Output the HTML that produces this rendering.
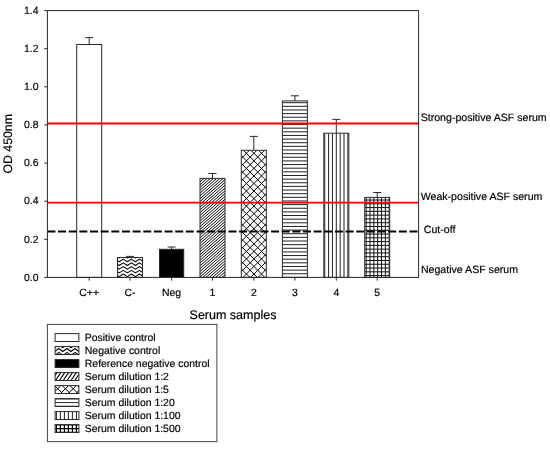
<!DOCTYPE html>
<html><head><meta charset="utf-8"><title>ELISA OD 450nm</title>
<style>
html,body{margin:0;padding:0;background:#fff;}
body{width:550px;height:450px;overflow:hidden;}
svg{display:block;}
text{font-family:"Liberation Sans",Arial,Helvetica,sans-serif;fill:#000;stroke:#000;stroke-width:0.18px;text-rendering:geometricPrecision;}
.s{font-size:10.45px;}
.b{font-size:12.5px;}
.r{font-size:10.6px;}
</style></head><body>
<svg width="550" height="450" viewBox="0 0 550 450">
<rect width="550" height="450" fill="#fff"/>
<rect x="76.7" y="44.5" width="25" height="232.9" fill="#fff"/>
<rect x="76.7" y="44.5" width="25" height="232.9" fill="none" stroke="#2a2a2a" stroke-width="1"/>
<path d="M89.2,44.5 V37.6 M85.2,37.6 H93.2" fill="none" stroke="#2a2a2a" stroke-width="1"/>
<rect x="117.5" y="257.5" width="25" height="19.9" fill="#fff"/>
<clipPath id="c1"><rect x="117.5" y="257.5" width="25" height="19.9"/></clipPath>
<path clip-path="url(#c1)" d="M107.1,251.62 L111.15,254.22 L115.2,251.62 L119.25,254.22 L123.3,251.62 L127.35,254.22 L131.4,251.62 L135.45,254.22 L139.5,251.62 L143.55,254.22 L147.6,251.62 L151.65,254.22 M107.1,255.36 L111.15,257.96 L115.2,255.36 L119.25,257.96 L123.3,255.36 L127.35,257.96 L131.4,255.36 L135.45,257.96 L139.5,255.36 L143.55,257.96 L147.6,255.36 L151.65,257.96 M107.1,259.1 L111.15,261.7 L115.2,259.1 L119.25,261.7 L123.3,259.1 L127.35,261.7 L131.4,259.1 L135.45,261.7 L139.5,259.1 L143.55,261.7 L147.6,259.1 L151.65,261.7 M107.1,262.84 L111.15,265.44 L115.2,262.84 L119.25,265.44 L123.3,262.84 L127.35,265.44 L131.4,262.84 L135.45,265.44 L139.5,262.84 L143.55,265.44 L147.6,262.84 L151.65,265.44 M107.1,266.58 L111.15,269.18 L115.2,266.58 L119.25,269.18 L123.3,266.58 L127.35,269.18 L131.4,266.58 L135.45,269.18 L139.5,266.58 L143.55,269.18 L147.6,266.58 L151.65,269.18 M107.1,270.32 L111.15,272.92 L115.2,270.32 L119.25,272.92 L123.3,270.32 L127.35,272.92 L131.4,270.32 L135.45,272.92 L139.5,270.32 L143.55,272.92 L147.6,270.32 L151.65,272.92 M107.1,274.06 L111.15,276.66 L115.2,274.06 L119.25,276.66 L123.3,274.06 L127.35,276.66 L131.4,274.06 L135.45,276.66 L139.5,274.06 L143.55,276.66 L147.6,274.06 L151.65,276.66 M107.1,277.8 L111.15,280.4 L115.2,277.8 L119.25,280.4 L123.3,277.8 L127.35,280.4 L131.4,277.8 L135.45,280.4 L139.5,277.8 L143.55,280.4 L147.6,277.8 L151.65,280.4 M107.1,281.54 L111.15,284.14 L115.2,281.54 L119.25,284.14 L123.3,281.54 L127.35,284.14 L131.4,281.54 L135.45,284.14 L139.5,281.54 L143.55,284.14 L147.6,281.54 L151.65,284.14" fill="none" stroke="#000" stroke-width="1.05" stroke-linejoin="round"/>
<rect x="117.5" y="257.5" width="25" height="19.9" fill="none" stroke="#2a2a2a" stroke-width="1"/>
<path d="M130.0,257.5 V256.4 M126.0,256.4 H134.0" fill="none" stroke="#2a2a2a" stroke-width="1"/>
<rect x="159.5" y="249.3" width="24.2" height="28.1" fill="#000"/>
<rect x="159.5" y="249.3" width="24.2" height="28.1" fill="none" stroke="#2a2a2a" stroke-width="1"/>
<path d="M171.6,249.3 V247.0 M167.6,247.0 H175.6" fill="none" stroke="#2a2a2a" stroke-width="1"/>
<rect x="200.0" y="178.4" width="25" height="99.0" fill="#fff"/>
<clipPath id="c2"><rect x="200" y="178.4" width="25" height="99"/></clipPath>
<path clip-path="url(#c2)" d="M87.61,277.4 L200.76,178.4 M90.81,277.4 L203.96,178.4 M94.01,277.4 L207.16,178.4 M97.21,277.4 L210.36,178.4 M100.41,277.4 L213.56,178.4 M103.61,277.4 L216.76,178.4 M106.81,277.4 L219.96,178.4 M110.01,277.4 L223.16,178.4 M113.21,277.4 L226.36,178.4 M116.41,277.4 L229.56,178.4 M119.61,277.4 L232.76,178.4 M122.81,277.4 L235.96,178.4 M126.01,277.4 L239.16,178.4 M129.21,277.4 L242.36,178.4 M132.41,277.4 L245.56,178.4 M135.61,277.4 L248.76,178.4 M138.81,277.4 L251.96,178.4 M142.01,277.4 L255.16,178.4 M145.21,277.4 L258.36,178.4 M148.41,277.4 L261.56,178.4 M151.61,277.4 L264.76,178.4 M154.81,277.4 L267.96,178.4 M158.01,277.4 L271.16,178.4 M161.21,277.4 L274.36,178.4 M164.41,277.4 L277.56,178.4 M167.61,277.4 L280.76,178.4 M170.81,277.4 L283.96,178.4 M174.01,277.4 L287.16,178.4 M177.21,277.4 L290.36,178.4 M180.41,277.4 L293.56,178.4 M183.61,277.4 L296.76,178.4 M186.81,277.4 L299.96,178.4 M190.01,277.4 L303.16,178.4 M193.21,277.4 L306.36,178.4 M196.41,277.4 L309.56,178.4 M199.61,277.4 L312.76,178.4 M202.81,277.4 L315.96,178.4 M206.01,277.4 L319.16,178.4 M209.21,277.4 L322.36,178.4 M212.41,277.4 L325.56,178.4 M215.61,277.4 L328.76,178.4 M218.81,277.4 L331.96,178.4 M222.01,277.4 L335.16,178.4 M225.21,277.4 L338.36,178.4" fill="none" stroke="#000" stroke-width="0.98" stroke-linejoin="round"/>
<rect x="200.0" y="178.4" width="25" height="99.0" fill="none" stroke="#2a2a2a" stroke-width="1"/>
<path d="M212.5,178.4 V173.5 M208.5,173.5 H216.5" fill="none" stroke="#2a2a2a" stroke-width="1"/>
<rect x="241.3" y="150.3" width="25" height="127.1" fill="#fff"/>
<clipPath id="c3"><rect x="241.35" y="150.3" width="25" height="127.1"/></clipPath>
<path clip-path="url(#c3)" d="M115.14,150.3 L242.23,277.4 M122.68,150.3 L249.78,277.4 M130.23,150.3 L257.32,277.4 M137.77,150.3 L264.87,277.4 M145.31,150.3 L272.41,277.4 M152.86,150.3 L279.96,277.4 M160.41,150.3 L287.5,277.4 M167.95,150.3 L295.05,277.4 M175.5,150.3 L302.59,277.4 M183.04,150.3 L310.14,277.4 M190.59,150.3 L317.68,277.4 M198.13,150.3 L325.23,277.4 M205.68,150.3 L332.77,277.4 M213.22,150.3 L340.32,277.4 M220.77,150.3 L347.87,277.4 M228.31,150.3 L355.41,277.4 M114.76,277.4 L241.86,150.3 M235.86,150.3 L362.95,277.4 M122.3,277.4 L249.4,150.3 M243.4,150.3 L370.5,277.4 M129.85,277.4 L256.94,150.3 M250.94,150.3 L378.04,277.4 M137.39,277.4 L264.49,150.3 M258.49,150.3 L385.59,277.4 M144.94,277.4 L272.04,150.3 M266.04,150.3 L393.13,277.4 M152.48,277.4 L279.58,150.3 M160.03,277.4 L287.12,150.3 M167.57,277.4 L294.67,150.3 M175.12,277.4 L302.22,150.3 M182.66,277.4 L309.76,150.3 M190.21,277.4 L317.31,150.3 M197.75,277.4 L324.85,150.3 M205.3,277.4 L332.39,150.3 M212.84,277.4 L339.94,150.3 M220.39,277.4 L347.49,150.3 M227.93,277.4 L355.03,150.3 M235.48,277.4 L362.57,150.3 M243.02,277.4 L370.12,150.3 M250.56,277.4 L377.66,150.3 M258.11,277.4 L385.21,150.3 M265.66,277.4 L392.75,150.3" fill="none" stroke="#000" stroke-width="1.0" stroke-linejoin="round"/>
<rect x="241.3" y="150.3" width="25" height="127.1" fill="none" stroke="#2a2a2a" stroke-width="1"/>
<path d="M253.8,150.3 V136.4 M249.8,136.4 H257.9" fill="none" stroke="#2a2a2a" stroke-width="1"/>
<rect x="282.4" y="100.9" width="25" height="176.5" fill="#fff"/>
<clipPath id="c4"><rect x="282.35" y="100.9" width="25" height="176.5"/></clipPath>
<path clip-path="url(#c4)" d="M282.35,102.68 H307.35 M282.35,106.32 H307.35 M282.35,109.96 H307.35 M282.35,113.6 H307.35 M282.35,117.24 H307.35 M282.35,120.88 H307.35 M282.35,124.52 H307.35 M282.35,128.16 H307.35 M282.35,131.8 H307.35 M282.35,135.44 H307.35 M282.35,139.08 H307.35 M282.35,142.72 H307.35 M282.35,146.36 H307.35 M282.35,150 H307.35 M282.35,153.64 H307.35 M282.35,157.28 H307.35 M282.35,160.92 H307.35 M282.35,164.56 H307.35 M282.35,168.2 H307.35 M282.35,171.84 H307.35 M282.35,175.48 H307.35 M282.35,179.12 H307.35 M282.35,182.76 H307.35 M282.35,186.4 H307.35 M282.35,190.04 H307.35 M282.35,193.68 H307.35 M282.35,197.32 H307.35 M282.35,200.96 H307.35 M282.35,204.6 H307.35 M282.35,208.24 H307.35 M282.35,211.88 H307.35 M282.35,215.52 H307.35 M282.35,219.16 H307.35 M282.35,222.8 H307.35 M282.35,226.44 H307.35 M282.35,230.08 H307.35 M282.35,233.72 H307.35 M282.35,237.36 H307.35 M282.35,241 H307.35 M282.35,244.64 H307.35 M282.35,248.28 H307.35 M282.35,251.92 H307.35 M282.35,255.56 H307.35 M282.35,259.2 H307.35 M282.35,262.84 H307.35 M282.35,266.48 H307.35 M282.35,270.12 H307.35 M282.35,273.76 H307.35 M282.35,277.4 H307.35" fill="none" stroke="#222" stroke-width="1.0" stroke-linejoin="round"/>
<rect x="282.4" y="100.9" width="25" height="176.5" fill="none" stroke="#2a2a2a" stroke-width="1"/>
<path d="M294.9,100.9 V95.8 M290.9,95.8 H298.9" fill="none" stroke="#2a2a2a" stroke-width="1"/>
<rect x="323.8" y="133.2" width="25" height="144.2" fill="#fff"/>
<clipPath id="c5"><rect x="323.8" y="133.2" width="25" height="144.2"/></clipPath>
<path clip-path="url(#c5)" d="M324.75,133.2 V277.4 M328.6,133.2 V277.4 M332.45,133.2 V277.4 M336.3,133.2 V277.4 M340.15,133.2 V277.4 M344,133.2 V277.4 M347.85,133.2 V277.4" fill="none" stroke="#222" stroke-width="1.0" stroke-linejoin="round"/>
<rect x="323.8" y="133.2" width="25" height="144.2" fill="none" stroke="#2a2a2a" stroke-width="1"/>
<path d="M336.3,133.2 V119.4 M332.3,119.4 H340.3" fill="none" stroke="#2a2a2a" stroke-width="1"/>
<rect x="364.7" y="197.4" width="25" height="80.0" fill="#fff"/>
<clipPath id="c6"><rect x="364.7" y="197.4" width="25" height="80"/></clipPath>
<path clip-path="url(#c6)" d="M364.7,200.02 H389.7 M364.7,203.8 H389.7 M364.7,207.58 H389.7 M364.7,211.36 H389.7 M364.7,215.14 H389.7 M364.7,218.92 H389.7 M364.7,222.7 H389.7 M364.7,226.48 H389.7 M364.7,230.26 H389.7 M364.7,234.04 H389.7 M364.7,237.82 H389.7 M364.7,241.6 H389.7 M364.7,245.38 H389.7 M364.7,249.16 H389.7 M364.7,252.94 H389.7 M364.7,256.72 H389.7 M364.7,260.5 H389.7 M364.7,264.28 H389.7 M364.7,268.06 H389.7 M364.7,271.84 H389.7 M364.7,275.62 H389.7 M366.16,197.4 V277.4 M370,197.4 V277.4 M373.84,197.4 V277.4 M377.68,197.4 V277.4 M381.52,197.4 V277.4 M385.36,197.4 V277.4 M389.2,197.4 V277.4" fill="none" stroke="#111" stroke-width="1.0" stroke-linejoin="round"/>
<rect x="364.7" y="197.4" width="25" height="80.0" fill="none" stroke="#2a2a2a" stroke-width="1"/>
<path d="M377.2,197.4 V192.5 M373.2,192.5 H381.2" fill="none" stroke="#2a2a2a" stroke-width="1"/>
<line x1="47.4" x2="418.6" y1="123.5" y2="123.5" stroke="#f00" stroke-width="1.8"/>
<line x1="47.4" x2="418.6" y1="202.7" y2="202.7" stroke="#f00" stroke-width="1.8"/>
<line x1="47.4" x2="418.6" y1="231.5" y2="231.5" stroke="#000" stroke-width="2" stroke-dasharray="8 2.65"/>
<rect x="47.4" y="10.6" width="371.2" height="266.8" fill="none" stroke="#2a2a2a" stroke-width="1"/>
<line x1="44.2" x2="47.4" y1="277.4" y2="277.4" stroke="#2a2a2a" stroke-width="1"/>
<text class="s" x="38.5" y="280.6" text-anchor="end">0.0</text>
<line x1="44.2" x2="47.4" y1="239.3" y2="239.3" stroke="#2a2a2a" stroke-width="1"/>
<text class="s" x="38.5" y="242.5" text-anchor="end">0.2</text>
<line x1="44.2" x2="47.4" y1="201.2" y2="201.2" stroke="#2a2a2a" stroke-width="1"/>
<text class="s" x="38.5" y="204.4" text-anchor="end">0.4</text>
<line x1="44.2" x2="47.4" y1="163.1" y2="163.1" stroke="#2a2a2a" stroke-width="1"/>
<text class="s" x="38.5" y="166.3" text-anchor="end">0.6</text>
<line x1="44.2" x2="47.4" y1="124.9" y2="124.9" stroke="#2a2a2a" stroke-width="1"/>
<text class="s" x="38.5" y="128.1" text-anchor="end">0.8</text>
<line x1="44.2" x2="47.4" y1="86.8" y2="86.8" stroke="#2a2a2a" stroke-width="1"/>
<text class="s" x="38.5" y="90.0" text-anchor="end">1.0</text>
<line x1="44.2" x2="47.4" y1="48.7" y2="48.7" stroke="#2a2a2a" stroke-width="1"/>
<text class="s" x="38.5" y="51.9" text-anchor="end">1.2</text>
<line x1="44.2" x2="47.4" y1="10.6" y2="10.6" stroke="#2a2a2a" stroke-width="1"/>
<text class="s" x="38.5" y="13.8" text-anchor="end">1.4</text>
<line x1="89.2" x2="89.2" y1="277.4" y2="280.6" stroke="#2a2a2a" stroke-width="1"/>
<text class="s" x="89.2" y="295.8" text-anchor="middle">C++</text>
<line x1="130.0" x2="130.0" y1="277.4" y2="280.6" stroke="#2a2a2a" stroke-width="1"/>
<text class="s" x="130.0" y="295.8" text-anchor="middle">C-</text>
<line x1="171.6" x2="171.6" y1="277.4" y2="280.6" stroke="#2a2a2a" stroke-width="1"/>
<text class="s" x="171.6" y="295.8" text-anchor="middle">Neg</text>
<line x1="212.5" x2="212.5" y1="277.4" y2="280.6" stroke="#2a2a2a" stroke-width="1"/>
<text class="s" x="212.5" y="295.8" text-anchor="middle">1</text>
<line x1="253.8" x2="253.8" y1="277.4" y2="280.6" stroke="#2a2a2a" stroke-width="1"/>
<text class="s" x="253.8" y="295.8" text-anchor="middle">2</text>
<line x1="294.9" x2="294.9" y1="277.4" y2="280.6" stroke="#2a2a2a" stroke-width="1"/>
<text class="s" x="294.9" y="295.8" text-anchor="middle">3</text>
<line x1="336.3" x2="336.3" y1="277.4" y2="280.6" stroke="#2a2a2a" stroke-width="1"/>
<text class="s" x="336.3" y="295.8" text-anchor="middle">4</text>
<line x1="377.2" x2="377.2" y1="277.4" y2="280.6" stroke="#2a2a2a" stroke-width="1"/>
<text class="s" x="377.2" y="295.8" text-anchor="middle">5</text>
<text class="b" x="233" y="318.6" text-anchor="middle">Serum samples</text>
<text class="b" style="font-size:12.3px" transform="translate(12.3,143.8) rotate(-90)" text-anchor="middle">OD 450nm</text>
<text class="r" x="420.7" y="121.1">Strong-positive ASF serum</text>
<text class="r" x="420.7" y="199.6">Weak-positive ASF serum</text>
<text class="r" x="423.8" y="233.1">Cut-off</text>
<text class="r" x="420.9" y="272.9">Negative ASF serum</text>
<rect x="47.4" y="324.4" width="169.5" height="117.2" fill="#fff" stroke="#444" stroke-width="1"/>
<rect x="55.1" y="333.6" width="23.8" height="7.9" fill="#fff"/>
<rect x="55.1" y="333.6" width="23.8" height="7.9" fill="none" stroke="#2a2a2a" stroke-width="1"/>
<text class="s" x="84.8" y="341.1">Positive control</text>
<rect x="55.1" y="346.6" width="23.8" height="7.9" fill="#fff"/>
<clipPath id="c7"><rect x="55.1" y="346.6" width="23.8" height="7.9"/></clipPath>
<path clip-path="url(#c7)" d="M42.6,340.9 L46.65,343.9 L50.7,340.9 L54.75,343.9 L58.8,340.9 L62.85,343.9 L66.9,340.9 L70.95,343.9 L75,340.9 L79.05,343.9 L83.1,340.9 L87.15,343.9 M42.6,344.7 L46.65,347.7 L50.7,344.7 L54.75,347.7 L58.8,344.7 L62.85,347.7 L66.9,344.7 L70.95,347.7 L75,344.7 L79.05,347.7 L83.1,344.7 L87.15,347.7 M42.6,348.5 L46.65,351.5 L50.7,348.5 L54.75,351.5 L58.8,348.5 L62.85,351.5 L66.9,348.5 L70.95,351.5 L75,348.5 L79.05,351.5 L83.1,348.5 L87.15,351.5 M42.6,352.3 L46.65,355.3 L50.7,352.3 L54.75,355.3 L58.8,352.3 L62.85,355.3 L66.9,352.3 L70.95,355.3 L75,352.3 L79.05,355.3 L83.1,352.3 L87.15,355.3 M42.6,356.1 L46.65,359.1 L50.7,356.1 L54.75,359.1 L58.8,356.1 L62.85,359.1 L66.9,356.1 L70.95,359.1 L75,356.1 L79.05,359.1 L83.1,356.1 L87.15,359.1 M42.6,359.9 L46.65,362.9 L50.7,359.9 L54.75,362.9 L58.8,359.9 L62.85,362.9 L66.9,359.9 L70.95,362.9 L75,359.9 L79.05,362.9 L83.1,359.9 L87.15,362.9" fill="none" stroke="#000" stroke-width="1.05" stroke-linejoin="round"/>
<rect x="55.1" y="346.6" width="23.8" height="7.9" fill="none" stroke="#2a2a2a" stroke-width="1"/>
<text class="s" x="84.8" y="354.1">Negative control</text>
<rect x="55.1" y="359.6" width="23.8" height="7.9" fill="#000"/>
<rect x="55.1" y="359.6" width="23.8" height="7.9" fill="none" stroke="#2a2a2a" stroke-width="1"/>
<text class="s" x="84.8" y="367.1">Reference negative control</text>
<rect x="55.1" y="372.6" width="23.8" height="7.9" fill="#fff"/>
<clipPath id="c8"><rect x="55.1" y="372.6" width="23.8" height="7.9"/></clipPath>
<path clip-path="url(#c8)" d="M51.66,380.5 L56.93,372.6 M55.53,380.5 L60.8,372.6 M59.4,380.5 L64.67,372.6 M63.27,380.5 L68.54,372.6 M67.14,380.5 L72.41,372.6 M71.01,380.5 L76.28,372.6 M74.88,380.5 L80.15,372.6 M78.75,380.5 L84.02,372.6" fill="none" stroke="#000" stroke-width="1.1" stroke-linejoin="round"/>
<rect x="55.1" y="372.6" width="23.8" height="7.9" fill="none" stroke="#2a2a2a" stroke-width="1"/>
<text class="s" x="84.8" y="380.1">Serum dilution 1:2</text>
<rect x="55.1" y="385.6" width="23.8" height="7.9" fill="#fff"/>
<clipPath id="c9"><rect x="55.1" y="385.6" width="23.8" height="7.9"/></clipPath>
<path clip-path="url(#c9)" d="M46.77,385.6 L54.99,393.5 M52.71,393.5 L60.93,385.6 M54.47,385.6 L62.69,393.5 M60.41,393.5 L68.63,385.6 M62.17,385.6 L70.39,393.5 M68.11,393.5 L76.33,385.6 M69.87,385.6 L78.09,393.5 M75.81,393.5 L84.03,385.6 M77.57,385.6 L85.79,393.5" fill="none" stroke="#000" stroke-width="1.0" stroke-linejoin="round"/>
<rect x="55.1" y="385.6" width="23.8" height="7.9" fill="none" stroke="#2a2a2a" stroke-width="1"/>
<text class="s" x="84.8" y="393.1">Serum dilution 1:5</text>
<rect x="55.1" y="398.6" width="23.8" height="7.9" fill="#fff"/>
<clipPath id="c10"><rect x="55.1" y="398.6" width="23.8" height="7.9"/></clipPath>
<path clip-path="url(#c10)" d="M55.1,398.96 H78.9 M55.1,402.6 H78.9 M55.1,406.24 H78.9" fill="none" stroke="#222" stroke-width="1.0" stroke-linejoin="round"/>
<rect x="55.1" y="398.6" width="23.8" height="7.9" fill="none" stroke="#2a2a2a" stroke-width="1"/>
<text class="s" x="84.8" y="406.1">Serum dilution 1:20</text>
<rect x="55.1" y="411.6" width="23.8" height="7.9" fill="#fff"/>
<clipPath id="c11"><rect x="55.1" y="411.6" width="23.8" height="7.9"/></clipPath>
<path clip-path="url(#c11)" d="M56.4,411.6 V419.5 M60.4,411.6 V419.5 M64.4,411.6 V419.5 M68.4,411.6 V419.5 M72.4,411.6 V419.5 M76.4,411.6 V419.5" fill="none" stroke="#222" stroke-width="1.0" stroke-linejoin="round"/>
<rect x="55.1" y="411.6" width="23.8" height="7.9" fill="none" stroke="#2a2a2a" stroke-width="1"/>
<text class="s" x="84.8" y="419.1">Serum dilution 1:100</text>
<rect x="55.1" y="424.6" width="23.8" height="7.9" fill="#fff"/>
<clipPath id="c12"><rect x="55.1" y="424.6" width="23.8" height="7.9"/></clipPath>
<path clip-path="url(#c12)" d="M55.1,425.01 H78.9 M55.1,428.65 H78.9 M55.1,432.29 H78.9 M56.4,424.6 V432.5 M60.4,424.6 V432.5 M64.4,424.6 V432.5 M68.4,424.6 V432.5 M72.4,424.6 V432.5 M76.4,424.6 V432.5" fill="none" stroke="#000" stroke-width="1.2" stroke-linejoin="round"/>
<rect x="55.1" y="424.6" width="23.8" height="7.9" fill="none" stroke="#2a2a2a" stroke-width="1"/>
<text class="s" x="84.8" y="432.1">Serum dilution 1:500</text>
</svg>
</body></html>
